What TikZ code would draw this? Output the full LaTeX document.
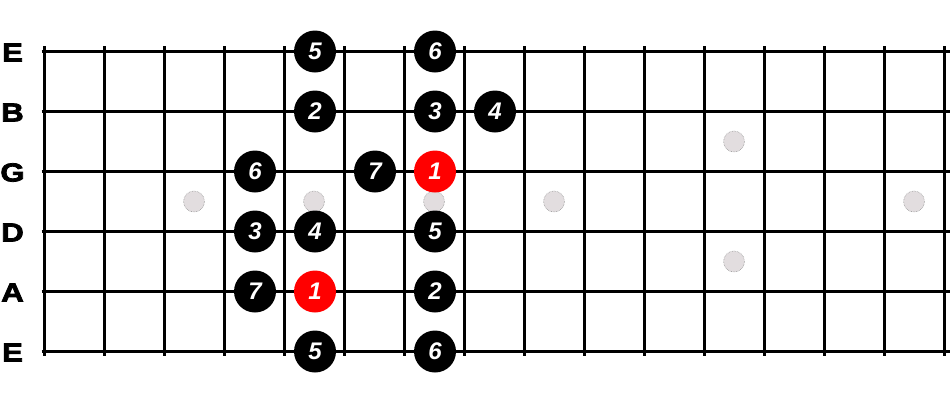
\documentclass[tikz,border=0pt]{standalone}
\usepackage{fontspec}
\setmainfont{Liberation Sans}
\newfontfamily\lblfont[FakeStretch=1.2,FakeBold=3]{Liberation Sans Bold}
\definecolor{inlaygrey}{RGB}{226,221,223}
\definecolor{inlayedge}{RGB}{150,150,150}
\newcommand{\notefont}{\fontsize{24pt}{24pt}\selectfont\bfseries\itshape}
\newcommand{\labelfont}{\lblfont\fontsize{26pt}{26pt}\selectfont}
\begin{document}
\begin{tikzpicture}[x=1pt,y=-1pt,
  stringline/.style={line width=3pt},
  fretline/.style={line width=3pt},
  note/.style={circle,fill=black,minimum size=42pt,inner sep=0pt,text=white,font=\notefont},
  root/.style={note,fill=red},
  inlay/.style={circle,fill=inlaygrey,draw=inlayedge,densely dotted,line width=0.6pt,minimum size=21pt,inner sep=0pt},
  lbl/.style={font=\labelfont,inner sep=0pt,anchor=center}
]
\useasboundingbox (0,0) rectangle (950,400);
% frets
\foreach \k in {0,...,15} {
  \draw[fretline] ({44+60*\k},46) -- ({44+60*\k},356);
}
% strings
\foreach \i in {0,...,5} {
  \draw[stringline] (41.5,{51.5+60*\i}) -- (950,{51.5+60*\i});
}
% string labels
\node[lbl] (lE) at (12.5,52.5) {E};
\node[lbl] (lB) at (12.5,112.5) {B};
\node[lbl] (lG) at (12.5,172.5) {G};
\node[lbl] (lD) at (12.5,232.5) {D};
\node[lbl] (lA) at (12.5,292.5) {A};
\node[lbl] (lE2) at (12.5,352.5) {E};
% inlays
\node[inlay] (i3) at (194,201.5) {};
\node[inlay] (i5) at (314,201.5) {};
\node[inlay] (i7) at (434,201.5) {};
\node[inlay] (i9) at (554,201.5) {};
\node[inlay] (i12a) at (734,141.5) {};
\node[inlay] (i12b) at (734,261.5) {};
\node[inlay] (i15) at (914,201.5) {};
% notes
\node[note] (e5) at (315,51.5) {5};
\node[note] (e6) at (435,51.5) {6};
\node[note] (b2) at (315,111.5) {2};
\node[note] (b3) at (435,111.5) {3};
\node[note] (b4) at (495,111.5) {4};
\node[note] (g6) at (255,171.5) {6};
\node[note] (g7) at (375,171.5) {7};
\node[root] (g1) at (435,171.5) {1};
\node[note] (d3) at (255,231.5) {3};
\node[note] (d4) at (315,231.5) {4};
\node[note] (d5) at (435,231.5) {5};
\node[note] (a7) at (255,291.5) {7};
\node[root] (a1) at (315,291.5) {1};
\node[note] (a2) at (435,291.5) {2};
\node[note] (le5) at (315,351.5) {5};
\node[note] (le6) at (435,351.5) {6};
\end{tikzpicture}
\end{document}
